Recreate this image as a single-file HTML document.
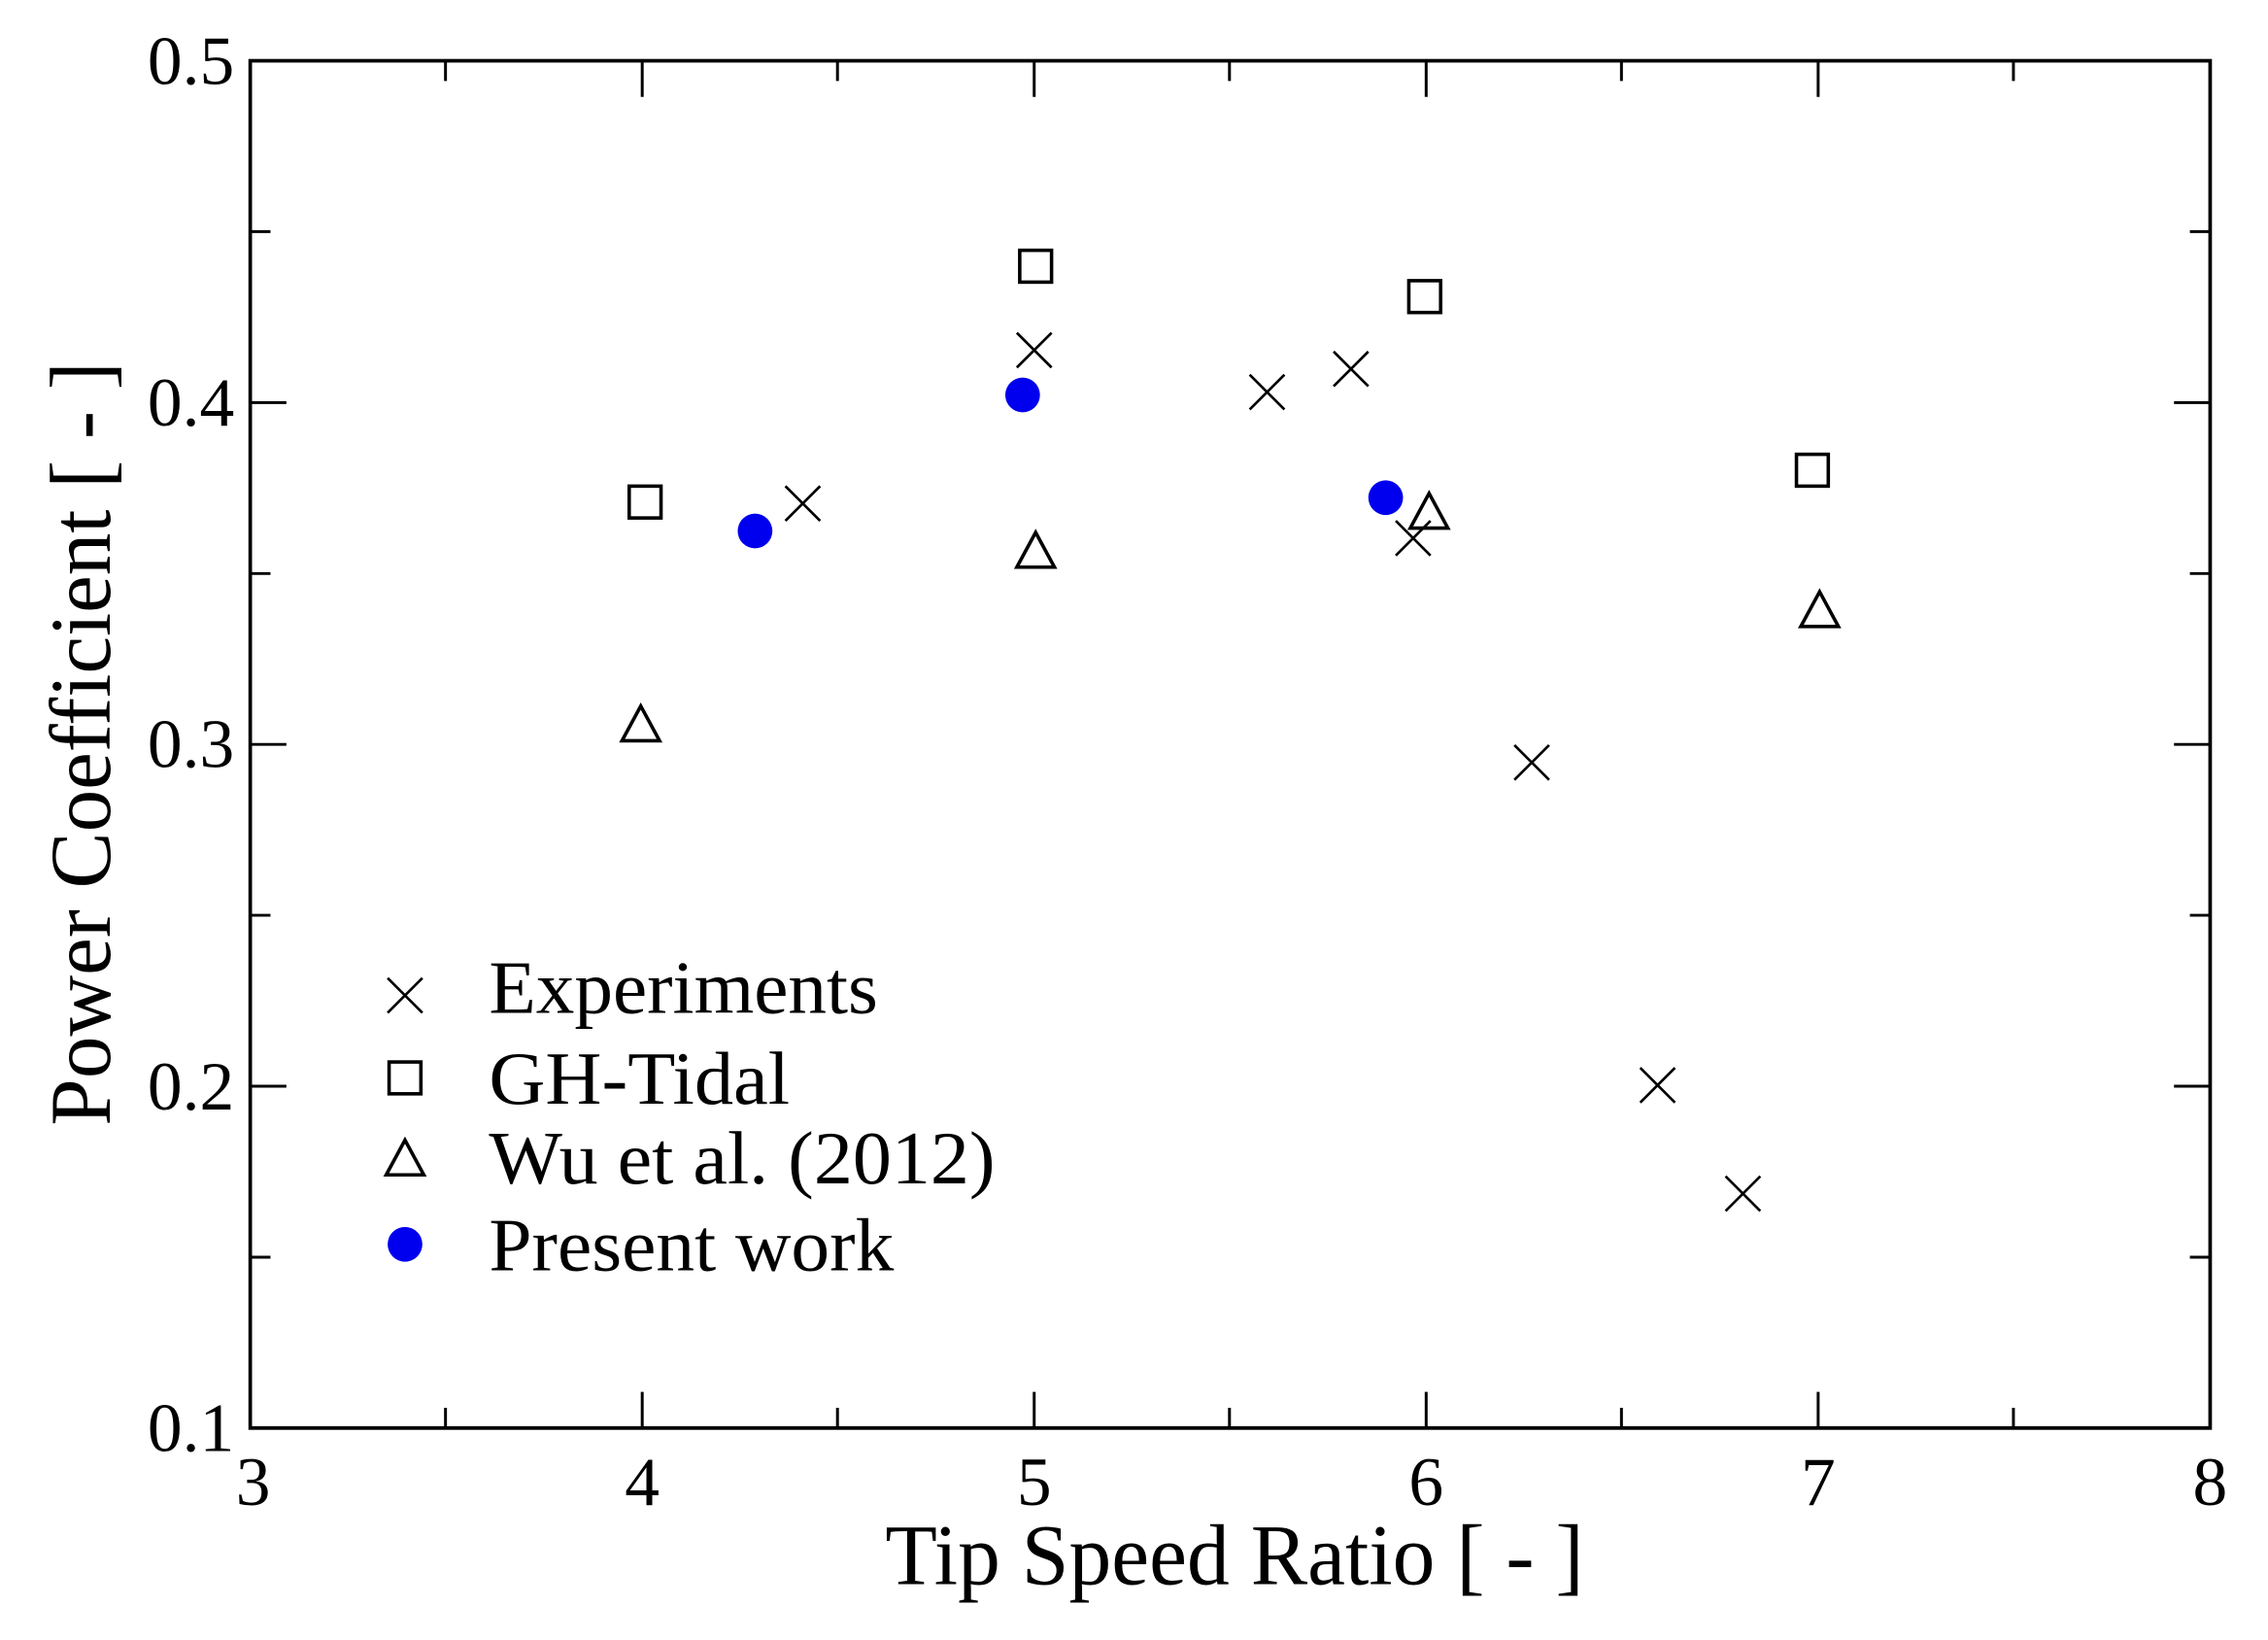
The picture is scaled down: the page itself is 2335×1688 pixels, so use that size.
<!DOCTYPE html>
<html><head><meta charset="utf-8"><style>
html,body{margin:0;padding:0;background:#fff;}
svg{display:block;}
text{font-family:"Liberation Serif",serif;fill:#000;}
</style></head><body>
<svg width="2335" height="1688" viewBox="0 0 1568 1133.5" preserveAspectRatio="none" xmlns="http://www.w3.org/2000/svg">
<rect x="0" y="0" width="1568" height="1134" fill="#fff"/>
<g stroke="#000" stroke-width="2" fill="none">
<rect x="173" y="42" width="1355" height="945" stroke-width="2.5"/>
<path d="M444 987v-25M715 987v-25M986 987v-25M1257 987v-25M308 987v-14M579 987v-14M850 987v-14M1121 987v-14M1392 987v-14"/>
<path d="M444 42v25M715 42v25M986 42v25M1257 42v25M308 42v14M579 42v14M850 42v14M1121 42v14M1392 42v14"/>
<path d="M173 278.25h25M173 514.5h25M173 750.75h25M173 160.1h14M173 396.4h14M173 632.6h14M173 868.9h14"/>
<path d="M1528 278.25h-25M1528 514.5h-25M1528 750.75h-25M1528 160.1h-14M1528 396.4h-14M1528 632.6h-14M1528 868.9h-14"/>
</g>
<g font-size="48" text-anchor="end">
<text x="162" y="58">0.5</text>
<text x="162" y="294">0.4</text>
<text x="162" y="530">0.3</text>
<text x="162" y="767">0.2</text>
<text x="162" y="1003">0.1</text>
</g>
<g font-size="48" text-anchor="middle">
<text x="175" y="1040">3</text>
<text x="444" y="1040">4</text>
<text x="715" y="1040">5</text>
<text x="986" y="1040">6</text>
<text x="1257" y="1040">7</text>
<text x="1528" y="1040">8</text>
</g>
<text x="612" y="1095" font-size="60" textLength="483" lengthAdjust="spacingAndGlyphs">Tip Speed Ratio [ - ]</text>
<text transform="translate(76,778) rotate(-90)" font-size="60" textLength="528" lengthAdjust="spacingAndGlyphs">Power Coefficient [ - ]</text>
<g stroke="#000" stroke-width="1.8" fill="none">
<path d="M543 336l24 24M567 336l-24 24 M703 230l24 24M727 230l-24 24 M864 259l24 24M888 259l-24 24 M922 243l24 24M946 243l-24 24 M965 360l24 24M989 360l-24 24 M1047 515l24 24M1071 515l-24 24 M1134 738l24 24M1158 738l-24 24 M1193 813l24 24M1217 813l-24 24 M268 676l24 24M292 676l-24 24"/>
</g>
<g stroke="#000" stroke-width="2.4" fill="none">
<rect x="435" y="336" width="22" height="22"/>
<rect x="705" y="173" width="22" height="22"/>
<rect x="974" y="194" width="22" height="22"/>
<rect x="1242" y="314" width="22" height="22"/>
<rect x="269" y="734" width="22" height="22"/>
<path d="M443 488L430 512H456Z M716 368L703 392H729Z M988 341L975 365H1001Z M1258 409L1245 433H1271Z M280 788L267 812H293Z"/>
</g>
<g fill="#0000ee">
<circle cx="522" cy="367" r="12"/>
<circle cx="707" cy="273" r="12"/>
<circle cx="958" cy="344" r="12"/>
<circle cx="280" cy="860" r="12"/>
</g>
<g font-size="52">
<text x="338" y="700" textLength="269" lengthAdjust="spacingAndGlyphs">Experiments</text>
<text x="338" y="763" textLength="208" lengthAdjust="spacingAndGlyphs">GH-Tidal</text>
<text x="338" y="818" textLength="350" lengthAdjust="spacingAndGlyphs">Wu et al. (2012)</text>
<text x="338" y="878" textLength="280" lengthAdjust="spacingAndGlyphs">Present work</text>
</g>
</svg>
</body></html>
